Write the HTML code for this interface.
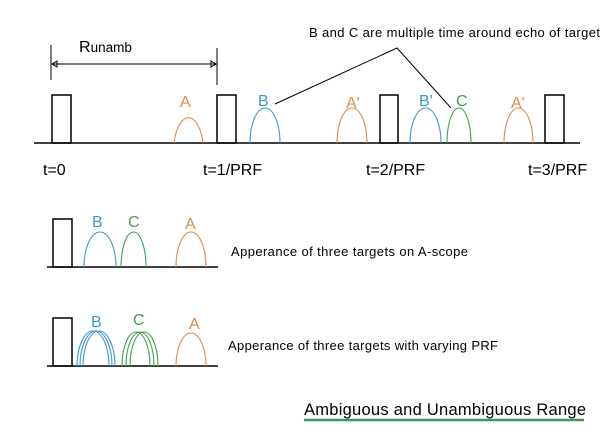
<!DOCTYPE html>
<html><head><meta charset="utf-8"><style>
html,body{margin:0;padding:0;background:#fff;}
svg{display:block;}
text{font-family:"Liberation Sans",sans-serif;}
</style></head><body>
<svg width="609" height="434" viewBox="0 0 609 434" xmlns="http://www.w3.org/2000/svg">
<g fill="none" stroke="#000" stroke-width="1.5">
<line x1="34" y1="143" x2="580" y2="143"/>
<rect x="52" y="95" width="19" height="48"/>
<rect x="217" y="95" width="19" height="48"/>
<rect x="380" y="95" width="18" height="48"/>
<rect x="545" y="95" width="19" height="48"/>
<line x1="47" y1="267" x2="218" y2="267"/>
<rect x="53" y="219" width="19" height="48"/>
<line x1="47" y1="366" x2="218" y2="366"/>
<rect x="53" y="318" width="19" height="48"/>
</g>
<g fill="none" stroke="#000" stroke-width="1">
<line x1="51" y1="45" x2="51" y2="80"/>
<line x1="217" y1="48" x2="217" y2="85"/>
<line x1="52" y1="64" x2="216" y2="64"/>
<path d="M52 64 l5 -3 v6 z M216 64 l-5 -3 v6 z"/>
<polyline points="275,104 397,48 451,108"/>
</g>
<g fill="none" stroke-width="1.1">
<path stroke="#e08a4a" d="M174 143 A15 34 0 0 1 203 143"/>
<path stroke="#3a9ad0" d="M250 143 A15 35 0 0 1 280 143"/>
<path stroke="#e08a4a" d="M337 143 A15 35 0 0 1 367 143"/>
<path stroke="#3a9ad0" d="M410 143 A15.5 35 0 0 1 441 143"/>
<path stroke="#40a050" d="M447 143 A12 35 0 0 1 471 143"/>
<path stroke="#e08a4a" d="M504 143 A14.5 35 0 0 1 533 143"/>
<path stroke="#3a9ad0" d="M84 267 A16 35 0 0 1 116 267"/>
<path stroke="#40a050" d="M121 267 A12.5 35 0 0 1 146 267"/>
<path stroke="#e08a4a" d="M176 267 A15 35 0 0 1 206 267"/>
<path stroke="#3a9ad0" d="M77 366 A16 35 0 0 1 109 366 M80 366 A16 35 0 0 1 112 366 M83 366 A16 35 0 0 1 115 366"/>
<path stroke="#40a050" d="M122 366 A14 34 0 0 1 150 366 M126 366 A14 34 0 0 1 154 366 M130 366 A14 34 0 0 1 158 366"/>
<path stroke="#e08a4a" d="M176 366 A15 33 0 0 1 206 366"/>
</g>
<g font-size="16">
<text x="180" y="107" fill="#e08a4a">A</text>
<text x="258" y="106" fill="#3a9ad0">B</text>
<text x="346" y="108" fill="#e08a4a">A'</text>
<text x="419" y="106" fill="#3a9ad0">B'</text>
<text x="456" y="106" fill="#40a050">C</text>
<text x="511" y="108" fill="#e08a4a">A'</text>
<text x="92" y="227" fill="#3a9ad0">B</text>
<text x="128" y="227" fill="#40a050">C</text>
<text x="185" y="229" fill="#e08a4a">A</text>
<text x="91" y="327" fill="#3a9ad0">B</text>
<text x="133" y="325" fill="#40a050">C</text>
<text x="189" y="329" fill="#e08a4a">A</text>
</g>
<g font-size="16" fill="#000">
<text x="79" y="52">R<tspan font-size="13.5">unamb</tspan></text>
<text x="43" y="175">t=0</text>
<text x="203" y="175">t=1/PRF</text>
<text x="366" y="175">t=2/PRF</text>
<text x="528" y="175">t=3/PRF</text>
</g>
<text x="309" y="37" font-size="13" textLength="291">B and C are multiple time around echo of target</text>
<text x="231" y="256" font-size="13" textLength="237">Apperance of three targets on A-scope</text>
<text x="228" y="350" font-size="13" textLength="270">Apperance of three targets with varying PRF</text>
<text x="304" y="415" font-size="16.5" textLength="282">Ambiguous and Unambiguous Range</text>
<line x1="304" y1="420" x2="584" y2="420" stroke="#3a9a50" stroke-width="2.5"/>
</svg>
</body></html>
